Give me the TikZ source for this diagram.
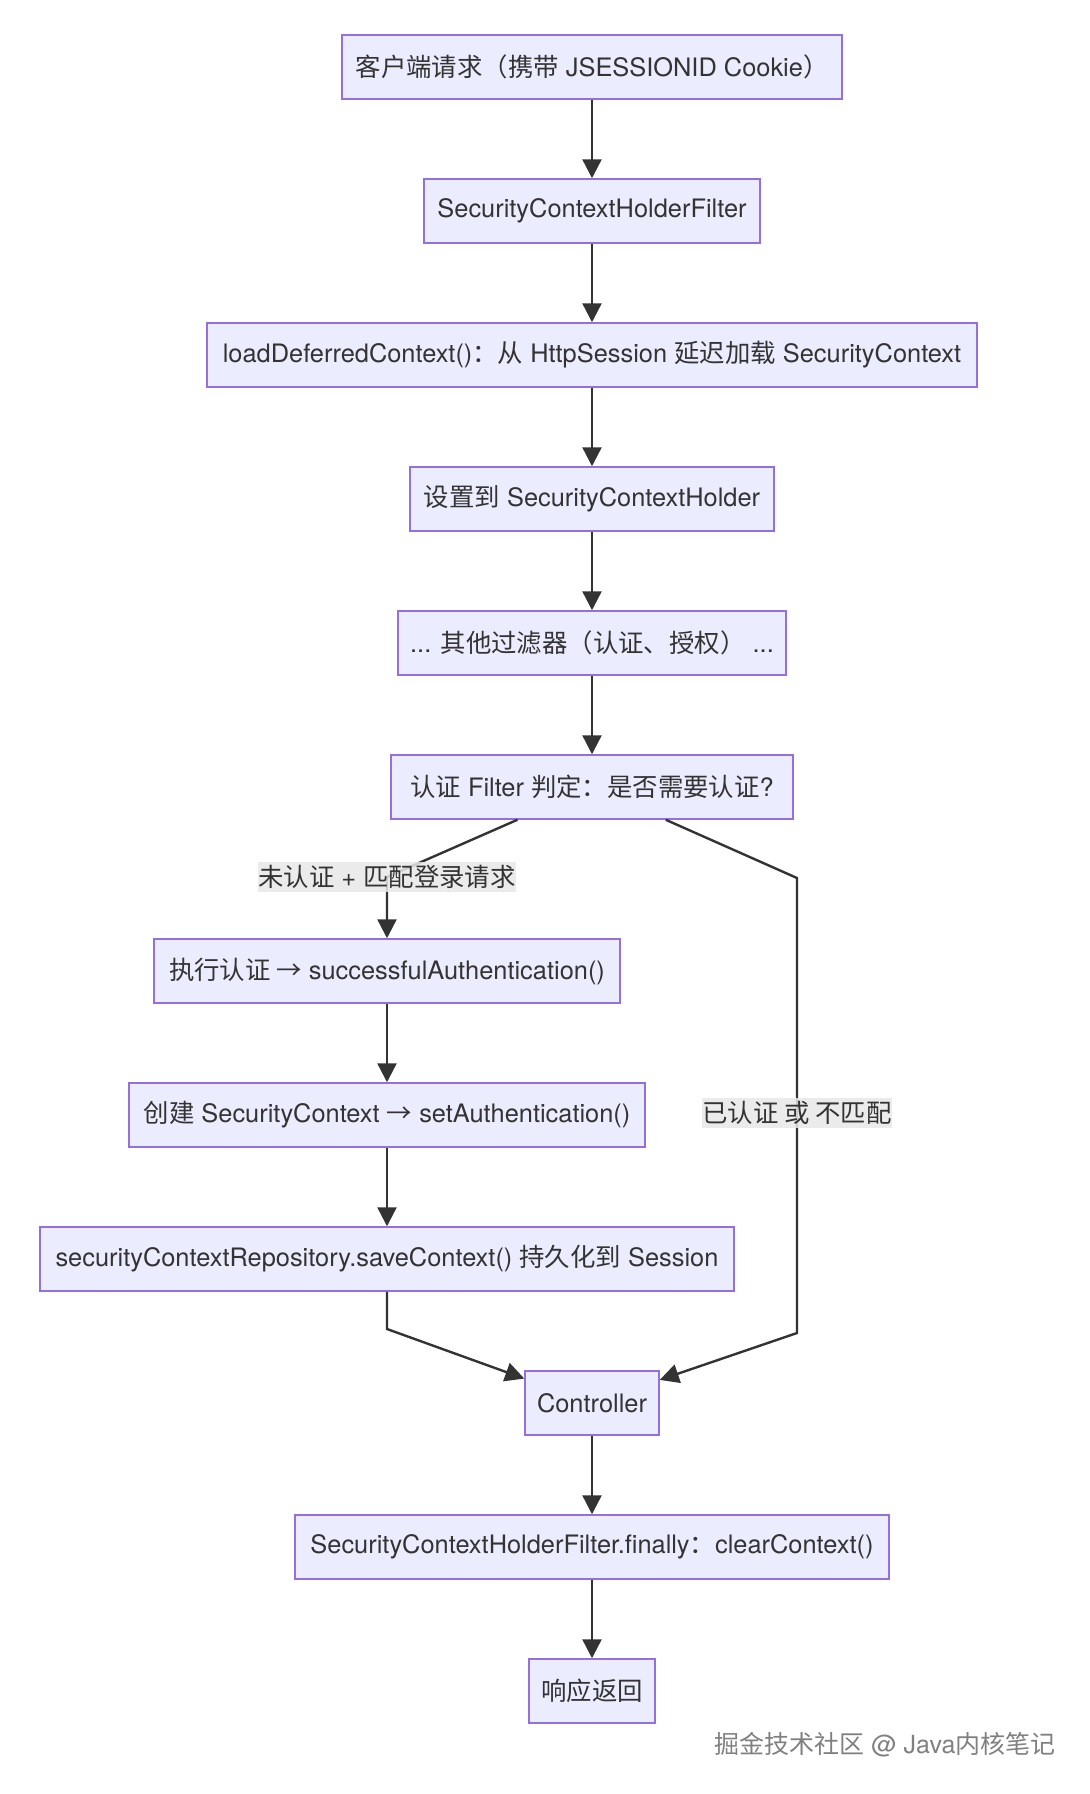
\documentclass[tikz,border=0pt]{standalone}
\usepackage{fontspec}
\setmainfont{TeX Gyre Heros}
\newfontfamily\zhfont{Noto Sans CJK SC}
\newcommand{\zh}[1]{{\zhfont #1}}
\usetikzlibrary{arrows.meta}
\definecolor{boxfill}{HTML}{ECECFF}
\definecolor{boxline}{HTML}{9370DB}
\definecolor{ink}{HTML}{333333}
\definecolor{lblfill}{HTML}{E8E8E8}

\begin{document}
\begin{tikzpicture}[x=0.5pt,y=-0.5pt,
  box/.style={draw=boxline,fill=boxfill,line width=0.75pt,minimum height=32pt,inner xsep=4pt,text=ink,font=\fontsize{12.7}{15}\selectfont},
  flow/.style={draw=ink,line width=1.2pt,-{Triangle[length=9.5pt,width=9.5pt]}},
  edgelbl/.style={fill=lblfill,fill opacity=0.85,text opacity=1,text=ink,inner xsep=0pt,inner ysep=1.5pt,font=\fontsize{12.7}{15}\selectfont}]
\useasboundingbox (0,0) rectangle (1090,1794);
\node[box,minimum width=250pt] (req) at (592,67) {\zh{客户端请求（携带} JSESSIONID Cookie\zh{）}};
\node[box,minimum width=168pt] (schf) at (592,211) {SecurityContextHolderFilter};
\node[box,minimum width=385pt] (load) at (592,355) {loadDeferredContext()\zh{：从} HttpSession \zh{延迟加载} SecurityContext};
\node[box,minimum width=182pt] (hold) at (592,499) {\zh{设置到} SecurityContextHolder};
\node[box,minimum width=194pt] (other) at (592,643) {... \zh{其他过滤器（认证、授权）} ...};
\node[box,minimum width=201pt] (judge) at (592,787) {\zh{认证} Filter \zh{判定：是否需要认证}?};
\node[box,minimum width=233pt] (exec) at (387,971) {\zh{执行认证 →} successfulAuthentication()};
\node[box,minimum width=258pt] (make) at (387,1115) {\zh{创建} SecurityContext \zh{→} setAuthentication()};
\node[box,minimum width=347pt] (save) at (387,1259) {securityContextRepository.saveContext() \zh{持久化到} Session};
\node[box,minimum width=67pt] (ctrl) at (592,1403) {Controller};
\node[box,minimum width=297pt] (clear) at (592,1547) {SecurityContextHolderFilter.finally\zh{：}clearContext()};
\node[box,minimum width=63pt] (resp) at (592,1691) {\zh{响应返回}};
\coordinate (k1) at (387,877);
\coordinate (k2) at (797,878);
\coordinate (k3) at (797,1333);
\coordinate (k4) at (387,1329);
\draw[flow] (req) -- (schf);
\draw[flow] (schf) -- (load);
\draw[flow] (load) -- (hold);
\draw[flow] (hold) -- (other);
\draw[flow] (other) -- (judge);
\draw[flow] (judge) -- (k1) -- (exec);
\draw[flow] (exec) -- (make);
\draw[flow] (make) -- (save);
\draw[flow] (judge) -- (k2) -- (k3) -- (ctrl);
\draw[flow] (save) -- (k4) -- (ctrl);
\draw[flow] (ctrl) -- (clear);
\draw[flow] (clear) -- (resp);
\node[edgelbl] (lblnew) at (k1) {\zh{未认证} + \zh{匹配登录请求}};
\node[edgelbl] (lbldone) at (797,1113) {\zh{已认证 或 不匹配}};
\node[text=black!50,font=\fontsize{12.5}{15}\selectfont] (mark) at (885,1745) {\zh{掘金技术社区} @ Java\zh{内核笔记}};
\end{tikzpicture}
\end{document}
